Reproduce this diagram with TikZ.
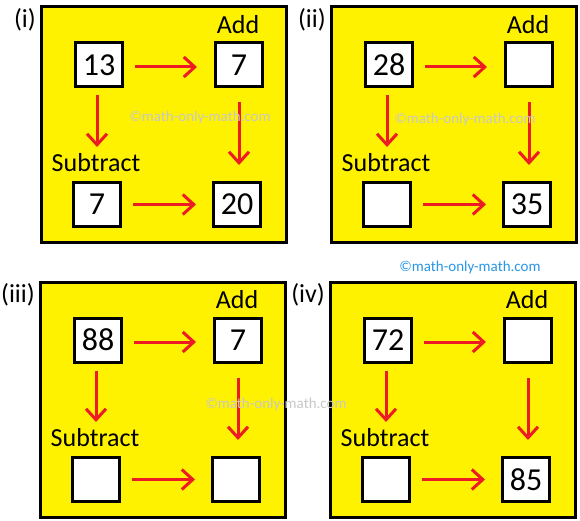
\documentclass[tikz,border=0pt]{standalone}
\usepackage{fontspec}
\setmainfont{Carlito}
\usetikzlibrary{arrows.meta}
\definecolor{panelyellow}{RGB}{255,242,0}
\definecolor{arrred}{RGB}{237,28,36}
\definecolor{wmgray}{RGB}{200,200,200}
\definecolor{wmblue}{RGB}{40,150,230}
\tikzset{
  panelbox/.style={draw=black, line width=3pt, fill=panelyellow},
  numbox/.style={draw=black, line width=3pt, fill=white, minimum width=47pt, minimum height=44pt, inner sep=0pt, font=\fontsize{32}{32}\selectfont},
  oplabel/.style={font=\fontsize{26}{26}\selectfont, inner sep=0pt},
  panellabel/.style={font=\fontsize{26}{26}\selectfont, inner sep=0pt, anchor=east},
  wmark/.style={font=\fontsize{15}{15}\selectfont, text=wmgray, inner sep=0pt},
  arr/.style={draw=arrred, line width=3pt, -{Straight Barb[length=11pt,width=20pt,line width=3pt]}}
}
\newcommand{\mypanel}[8]{%
  % #1 x, #2 y, #3 prefix, #4 label, #5 A, #6 B, #7 C, #8 D
  \begin{scope}[shift={(#1,#2)}]
    \path[panelbox] (0,0) rectangle (245,235);
    \node[panellabel] (#3L) at (-5,13) {#4};
    \node[numbox] (#3A) at (58,58) {#5};
    \node[numbox] (#3B) at (198,58) {#6};
    \node[numbox] (#3C) at (56,197.5) {#7};
    \node[numbox] (#3D) at (196,197.5) {#8};
    \node[oplabel] (#3add) at (197,18) {Add};
    \node[oplabel] (#3sub) at (55,156) {Subtract};
    \draw[arr, shorten <=11pt, shorten >=17pt] ([yshift=-2pt]#3A.east) -- ([yshift=-2pt]#3B.west);
    \draw[arr, shorten <=7pt, shorten >=34pt] (#3A.south -| #3C.center) -- (#3C.north);
    \draw[arr, shorten <=14pt, shorten >=16pt] (#3B.south) -- (#3D.north -| #3B.south);
    \draw[arr, shorten <=11pt, shorten >=16pt] (#3C.east) -- (#3D.west);
  \end{scope}
}
\begin{document}
\begin{tikzpicture}[x=1pt,y=-1pt]
\useasboundingbox (0,0) rectangle (580,521);
\fill[white] (0,0) rectangle (580,521);
\mypanel{41}{7}{p}{(i)}{13}{7}{7}{20}
\mypanel{331}{7}{q}{(ii)}{28}{}{}{35}
\mypanel{40}{282}{r}{(iii)}{88}{7}{}{}
\mypanel{330}{282}{s}{(iv)}{72}{}{}{85}
\node[wmark] (w1) at (200,118) {©math-only-math.com};
\node[wmark] (w2) at (465,120) {©math-only-math.com};
\node[wmark] (w3) at (276,404) {©math-only-math.com};
\node[wmark, text=wmblue] (w4) at (470,268) {©math-only-math.com};
\end{tikzpicture}
\end{document}
